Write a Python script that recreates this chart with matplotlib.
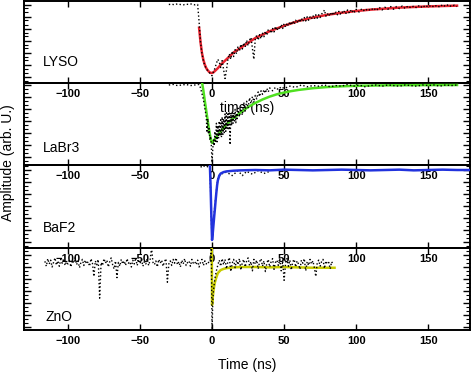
import matplotlib
matplotlib.use("Agg")
import matplotlib.pyplot as plt
from matplotlib.ticker import MultipleLocator

plt.rcParams['font.family'] = ['Liberation Sans', 'DejaVu Sans']

# ---------------- data ----------------
panel_names = ["LYSO", "LaBr3", "BaF2", "ZnO"]
fit_colors = ["#e8222e", "#4fe020", "#2233dd", "#c8cc00"]
xticks = [-100, -50, 0, 50, 100, 150]

# LYSO measured trace
lyso_t = ([-30, -28, -26, -24, -22, -20, -18, -16, -14, -12, -10]
          + list(range(-9, 101))
          + list(range(102, 171, 2)))
lyso_v = [0.0, 0.005, -0.005, 0.01, 0.0, -0.005, 0.005, 0.0, 0.01, -0.005, 0.0,
          # -9 .. 0
          -0.25, -0.55, -0.72, -0.82, -0.90, -0.93, -0.97, -0.99, -1.02, -1.04,
          # 1 .. 10
          -0.98, -0.93, -0.86, -0.80, -0.84, -0.92, -0.82, -0.95, -1.08, -0.96,
          # 11 .. 20
          -0.80, -0.72, -0.80, -0.68, -0.76, -0.66, -0.72, -0.61, -0.68, -0.58,
          # 21 .. 30
          -0.65, -0.56, -0.62, -0.52, -0.60, -0.52, -0.48, -0.64, -0.80, -0.50,
          # 31 .. 40
          -0.45, -0.52, -0.44, -0.50, -0.42, -0.47, -0.39, -0.45, -0.37, -0.37,
          # 41 .. 50
          -0.42, -0.35, -0.40, -0.32, -0.38, -0.33, -0.36, -0.29, -0.35, -0.28,
          # 51 .. 60
          -0.33, -0.27, -0.31, -0.25, -0.30, -0.24, -0.29, -0.23, -0.27, -0.22,
          # 61 .. 70
          -0.26, -0.20, -0.25, -0.19, -0.24, -0.18, -0.23, -0.18, -0.21, -0.16,
          # 71 .. 80
          -0.21, -0.15, -0.20, -0.15, -0.19, -0.14, -0.12, -0.08, -0.17, -0.13,
          # 81 .. 90
          -0.17, -0.12, -0.16, -0.11, -0.15, -0.11, -0.15, -0.10, -0.14, -0.10,
          # 91 .. 100
          -0.13, -0.09, -0.13, -0.08, -0.12, -0.08, -0.12, -0.08, -0.11, -0.07,
          # 102 .. 170 step 2
          -0.11, -0.06, -0.10, -0.06, -0.09, -0.05, -0.09, -0.04, -0.08, -0.04,
          -0.07, -0.03, -0.07, -0.03, -0.06, -0.02, -0.06, -0.02, -0.05, -0.02,
          -0.05, -0.01, -0.05, -0.01, -0.04, -0.01, -0.04, -0.01, -0.04, 0.0,
          -0.03, 0.0, -0.03, -0.01, -0.03]
# LYSO fit
lyso_fit_t = [-9, -8, -7, -6, -5, -4, -3, -2, -1, 0, 1, 2, 4, 6, 8, 10, 15, 20, 25, 30, 35, 40, 45, 50,
              60, 70, 80, 90, 100, 110, 120, 130, 140, 150, 160, 170]
lyso_fit_v = [-0.34, -0.55, -0.71, -0.81, -0.88, -0.93, -0.96, -0.985, -0.998, -1.0, -0.99, -0.97, -0.93, -0.88, -0.84, -0.80,
              -0.70, -0.63, -0.56, -0.49, -0.44, -0.39, -0.35, -0.31, -0.24, -0.19, -0.15, -0.12, -0.095, -0.075,
              -0.06, -0.045, -0.036, -0.028, -0.022, -0.017]

# LaBr3 measured trace
labr_t = [-30, -27, -24, -21, -18, -15, -12, -9, -8, -7, -6, -5, -4, -3.5, -3, -2.5, -2, -1.5, -1, -0.5, 0,
          0.5, 1, 1.5, 2, 2.5, 3, 3.5, 4, 4.5, 5, 5.5, 6, 6.5, 7, 7.5, 8, 8.5, 9, 9.5, 10, 10.5, 11, 11.5,
          12, 12.5, 13, 13.5, 14, 14.5, 15, 15.5, 16, 16.5, 17, 17.5, 18, 19, 20, 21, 22, 23, 24, 25,
          26, 27, 28, 29, 30, 31, 32, 33, 34, 35, 36, 37, 38, 39, 40, 42, 44, 46, 48, 50,
          54, 58, 62, 66, 70, 74, 78, 82, 86, 90, 94, 98, 102, 106, 110, 114, 118, 122, 126, 130,
          134, 138, 142, 146, 150, 154, 158, 162, 166, 170]
labr_v = [0.0, 0.01, -0.01, 0.0, 0.01, -0.01, 0.0, 0.01, -0.05, -0.15, -0.25, -0.40, -0.55, -0.82, -0.58, -0.85, -0.75, -0.95, -0.88, -1.05, -1.34,
          -1.10, -0.95, -1.05, -0.80, -1.00, -0.66, -0.98, -0.70, -0.92, -0.62, -0.88, -0.60, -0.90, -0.55, -0.85, -0.58, -0.82, -0.50, -0.80, -0.48, -0.75, -0.50, -0.78,
          -0.46, -1.03, -0.48, -0.70, -0.45, -0.66, -0.48, -0.62, -0.42, -0.65, -0.48, -0.58, -0.40, -0.55, -0.38, -0.52, -0.30, -0.45, -0.28, -0.40,
          -0.22, -0.32, -0.20, -0.28, -0.18, -0.24, -0.12, -0.20, -0.10, -0.16, -0.08, -0.14, -0.06, -0.12, -0.05, -0.10, -0.04, -0.08, -0.03, -0.06,
          -0.02, -0.04, 0.0, -0.03, -0.01, -0.02, 0.0, -0.03, -0.01, -0.02, 0.01, -0.02, 0.0, -0.03, -0.01, 0.0, -0.02, 0.0, -0.01, -0.02,
          0.0, -0.01, -0.02, 0.0, -0.01, 0.0, -0.02, 0.0, -0.01, 0.0]
# LaBr3 fit
labr_fit_t = [-7, -6, -5, -4, -3, -2, -1, 0, 2, 4, 6, 8, 10, 12, 15, 20, 25, 30, 35, 40, 45, 50, 55, 60,
              70, 80, 90, 100, 120, 140, 170]
labr_fit_v = [0.05, -0.10, -0.28, -0.45, -0.62, -0.78, -0.92, -1.0, -0.93, -0.86, -0.80, -0.74, -0.68, -0.63, -0.57,
              -0.47, -0.38, -0.31, -0.25, -0.20, -0.16, -0.13, -0.105, -0.085, -0.055, -0.035, -0.022, -0.014, -0.006, -0.003, 0.0]

# BaF2 measured trace
baf_t = [-8, -7, -6, -5, -4, -3, -2, -1.5, -1, -0.5, 0, 0.5, 1, 2, 3, 4, 6, 10, 14, 18, 21, 24, 28, 32, 36, 40]
baf_v = [0.05, 0.04, 0.06, 0.05, 0.04, 0.05, 0.03, 0.02, -0.3, -0.7, -1.0, -0.85, -0.7, -0.5, -0.3, -0.12, -0.06, -0.03, -0.08, -0.01, -0.08, -0.02, -0.06, -0.01, -0.05, -0.02]
# BaF2 fit
baf_fit_t = [-1.5, -1, -0.5, 0, 0.5, 1, 1.5, 2, 2.5, 3, 3.5, 4, 5, 6, 8, 10, 15, 20, 30, 40, 50, 60, 70, 80,
             90, 100, 110, 120, 130, 140, 150, 160, 170, 180]
baf_fit_v = [0.07, -0.25, -0.65, -1.0, -0.90, -0.78, -0.66, -0.55, -0.43, -0.32, -0.22, -0.15, -0.08, -0.05, -0.03, -0.02,
             -0.01, -0.005, 0.0, -0.005, 0.005, 0.0, -0.005, 0.0, 0.005, 0.0, -0.005, 0.0, 0.005, -0.005, 0.0, 0.005, 0.0, 0.0]

# ZnO measured trace
zno_t = list(range(-116, 0)) + [-0.5, 0, 0.5] + list(range(1, 85))
zno_v = [0.15, 0.02, 0.22, 0.08, 0.18, 0.00, 0.12, 0.24, 0.05, 0.16,
         0.02, 0.20, 0.10, 0.22, 0.04, 0.14, 0.08, 0.20, 0.00, 0.18,
         0.10, 0.24, 0.06, 0.16, -0.02, 0.12, 0.20, 0.04, 0.18, 0.08,
         0.14, 0.02, 0.22, 0.10, -0.25, 0.16, 0.06, 0.20, -0.82, 0.12,
         0.04, 0.22, 0.10, 0.18, 0.00, 0.14, 0.24, 0.06, -0.05, 0.16,
         -0.28, 0.12, 0.02, 0.20, 0.08, 0.16, 0.04, 0.22, 0.10, 0.14,
         0.00, 0.18, 0.08, 0.24, 0.04, 0.16, 0.10, 0.20, 0.02, 0.14,
         0.08, 0.22, 0.04, 0.18, 0.50, 0.12, 0.06, 0.16, 0.00, 0.20,
         0.10, 0.18, 0.02, 0.14, 0.22, -0.40, 0.08, 0.16, 0.04, 0.20,
         0.10, 0.24, 0.06, 0.14, 0.00, 0.18, 0.08, 0.22, 0.04, 0.12,
         0.16, 0.02, 0.20, 0.10, 0.14, 0.06, 0.18, 0.00, 0.12, 0.20,
         0.04, 0.16, 0.08, 0.14, 0.10, 0.18,
         0.50, -1.70, -0.90,
         -0.60, -0.30, -0.10, 0.05, 0.18, 0.02, 0.22, 0.06, 0.20, -0.05,
         0.15, 0.25, -0.12, 0.10, 0.20, -0.02, 0.18, 0.06, 0.22, -0.08,
         0.12, 0.20, 0.00, 0.16, 0.24, 0.04, 0.14, -0.10, 0.20, 0.08,
         0.18, -0.05, 0.14, 0.22, 0.02, 0.16, -0.12, 0.10, 0.20, 0.00,
         0.14, 0.22, -0.06, 0.12, 0.18, 0.04, 0.20, -0.10, 0.16, -0.35,
         0.10, 0.22, 0.02, 0.18, -0.08, 0.14, 0.20, 0.00, 0.16, 0.08,
         -0.06, 0.18, 0.10, 0.22, -0.10, 0.14, 0.04, 0.20, 0.08, 0.16,
         -0.02, -0.25, 0.12, 0.18, 0.02, 0.14, 0.20, -0.04, 0.16, 0.08,
         0.12, -0.05, 0.14, 0.06]
# ZnO fit
zno_fit_t = [-0.2, 0, 0.5, 1, 1.5, 2, 3, 4, 6, 8, 10, 15, 20, 30, 40, 50, 60, 70, 85]
zno_fit_v = [0.6, -1.0, -0.8, -0.62, -0.5, -0.4, -0.27, -0.16, -0.08, -0.05, -0.03, -0.01, 0.0, 0.0, -0.01, 0.0, -0.01, -0.02, -0.02]

data_t = [lyso_t, labr_t, baf_t, zno_t]
data_v = [lyso_v, labr_v, baf_v, zno_v]
fit_t = [lyso_fit_t, labr_fit_t, baf_fit_t, zno_fit_t]
fit_v = [lyso_fit_v, labr_fit_v, baf_fit_v, zno_fit_v]

# ---------------- layout ----------------
W, H = 474, 376
fig = plt.figure(figsize=(W / 100, H / 100), dpi=100)
left_px, right_px = 24, 470
tops = [1, 83, 165, 248]
bots = [83, 165, 248, 330]
base_px = [4.5, 85, 170, 267]    # pixel row of amplitude 0
unit_px = [68.5, 58, 70, 38]     # pixels per amplitude unit
label_y = [62, 148, 228, 317]
label_x = [43, 43, 43, 46]
data_on_top = [True, True, False, True]

axes = []
for i in range(4):
    ax = fig.add_axes([left_px / W, 1 - bots[i] / H, (right_px - left_px) / W, (bots[i] - tops[i]) / H])
    ax.patch.set_alpha(0)
    ytop = (base_px[i] - tops[i]) / unit_px[i]
    ybot = -(bots[i] - base_px[i]) / unit_px[i]
    ax.set_xlim(-130.5, 179)
    ax.set_ylim(ybot, ytop)
    ax.plot(fit_t[i], fit_v[i], color=fit_colors[i], linewidth=1.8, zorder=3)
    ax.plot(data_t[i], data_v[i], color="black", linestyle=":", linewidth=1.0,
            zorder=4 if data_on_top[i] else 2)
    ax.set_xticks(xticks)
    ax.set_xticklabels([("\u2212%d" % -v) if v < 0 else str(v) for v in xticks],
                       fontsize=8, fontweight="bold")
    ax.tick_params(axis="x", direction="in", top=True, bottom=True, length=4, width=1, pad=4)
    ax.yaxis.set_major_locator(MultipleLocator(12 / unit_px[i]))
    ax.yaxis.set_minor_locator(MultipleLocator(4 / unit_px[i]))
    ax.tick_params(axis="y", which="major", direction="in", left=True, right=True, length=5, width=1,
                   labelleft=False)
    ax.tick_params(axis="y", which="minor", direction="in", left=True, right=True, length=3, width=0.8)
    for s in ax.spines.values():
        s.set_linewidth(1.4)
    ax.text((label_x[i] - left_px) / (right_px - left_px),
            1 - (label_y[i] - tops[i]) / (bots[i] - tops[i]),
            panel_names[i], transform=ax.transAxes, fontsize=10, va="center", ha="left", zorder=1)
    axes.append(ax)

# label of the top panel, showing through in the second panel
axes[1].text(0.5, 1 - (108 - tops[1]) / (bots[1] - tops[1]), "time (ns)", transform=axes[1].transAxes,
             ha="center", va="center", fontsize=10, zorder=1)

fig.text(247 / W, 1 - 365 / H, "Time (ns)", ha="center", va="center", fontsize=10)
fig.text(8 / W, 1 - 163 / H, "Amplitude (arb. U.)", ha="center", va="center", rotation=90, fontsize=10)

fig.savefig("out.png", dpi=100)
